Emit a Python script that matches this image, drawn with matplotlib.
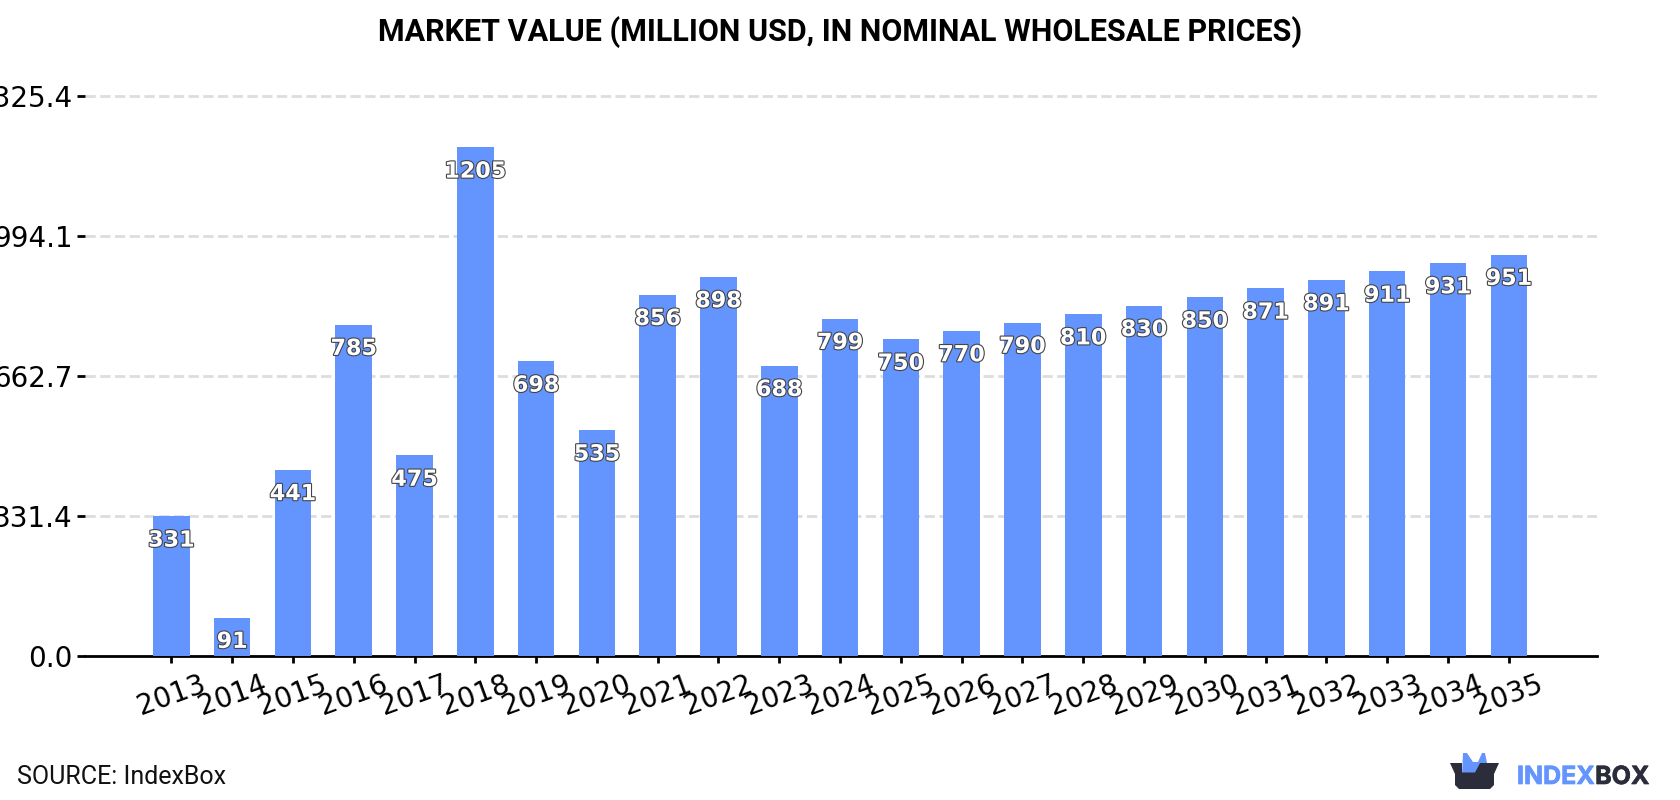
import matplotlib
matplotlib.use('Agg')
import matplotlib.pyplot as plt
import matplotlib.patheffects as pe
from matplotlib.patches import Polygon

# market value by year
years = [2013, 2014, 2015, 2016, 2017, 2018, 2019, 2020, 2021, 2022, 2023, 2024,
         2025, 2026, 2027, 2028, 2029, 2030, 2031, 2032, 2033, 2034, 2035]
values = [331, 91, 441, 785, 475, 1205, 698, 535, 856, 898, 688, 799,
          750, 770, 790, 810, 830, 850, 871, 891, 911, 931, 951]
y_ticks = [0.0, 331.4, 662.7, 994.1, 1325.4]

BLUE = '#6495ff'
DARK = '#2b2d3a'

fig = plt.figure(figsize=(16.8, 8), dpi=100)
ax = fig.add_axes([85 / 1680, 1 - 656 / 800, (1597 - 85) / 1680, (656 - 70) / 800])

x = list(range(len(years)))
ax.bar(x, values, width=0.6, color=BLUE, zorder=3)

# value labels sit just inside the top of each bar
for i, v in zip(x, values):
    ax.annotate(str(v), (i, v), xytext=(0, -17.5), textcoords='offset points',
                ha='center', va='center', fontsize=16, fontweight='bold',
                color='white', zorder=5,
                path_effects=[pe.withStroke(linewidth=1.6, foreground='#444444')])

ax.set_xlim(-1.42, 23.45)
ax.set_ylim(0, 1325.4 * (656 - 70) / (656 - 96.5))
ax.set_yticks(y_ticks)
ax.set_yticklabels(['%.1f' % t for t in y_ticks])
ax.set_xticks(x)
ax.set_xticklabels(years, rotation=20, ha='center')
ax.tick_params(axis='y', labelsize=20, length=6, width=2, pad=3)
ax.tick_params(axis='x', labelsize=20, length=5, width=2, pad=5)
ax.yaxis.grid(True, color='#dddddd', linestyle='--', linewidth=2, zorder=0)
ax.set_axisbelow(True)

for s in ['top', 'right', 'left']:
    ax.spines[s].set_visible(False)
ax.spines['bottom'].set_linewidth(2)

fig.text(0.5, 1 - 32 / 800, 'MARKET VALUE (MILLION USD, IN NOMINAL WHOLESALE PRICES)',
         ha='center', va='center', fontsize=22, fontweight='bold',
         family='Roboto', color='black')
fig.text(17 / 1680, 1 - 776.5 / 800, 'SOURCE: IndexBox', ha='left', va='center',
         fontsize=18, family='Roboto', color='#111111')

# IndexBox logo, drawn in pixel coordinates on a full-figure overlay
logo = fig.add_axes([0, 0, 1, 1], facecolor='none')
logo.set_xlim(0, 1680)
logo.set_ylim(800, 0)
logo.axis('off')
logo.add_patch(Polygon([(1462, 775), (1463, 753), (1467, 753), (1473, 762), (1478, 762),
                        (1482, 753), (1485, 753), (1487, 763), (1487, 775)],
                       closed=True, color=BLUE, lw=0))
logo.add_patch(Polygon([(1450, 763), (1462, 763), (1462, 772.5), (1475, 772.5), (1480, 763),
                        (1499, 763), (1494, 774), (1494, 785), (1490, 789),
                        (1459, 789), (1455, 785), (1455, 774)],
                       closed=True, color=DARK, lw=0))
# two-colour wordmark, heavy stroke thickens the letters
stroke = 0.5
t1 = logo.text(1517, 775, 'INDEX', ha='left', va='center_baseline', fontsize=18,
               fontweight='bold', family='Inter', color=BLUE,
               path_effects=[pe.withStroke(linewidth=stroke, foreground=BLUE)])
fig.canvas.draw()
bb = t1.get_window_extent()
logo.text(bb.x1 + 0.5, 775, 'BOX', ha='left', va='center_baseline', fontsize=18,
          fontweight='bold', family='Inter', color=DARK,
          path_effects=[pe.withStroke(linewidth=stroke, foreground=DARK)])

fig.savefig('out.png', dpi=100)
